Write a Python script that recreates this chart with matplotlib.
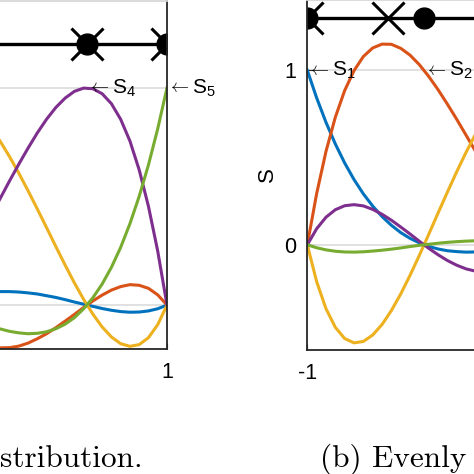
import matplotlib
matplotlib.use('Agg')
import matplotlib.pyplot as plt

# ---------------- data ----------------
# node positions on [-1, 1]
gll_nodes = [-1.0, -0.6547, 0.0, 0.6547, 1.0]      # X markers (both panels), circles in (a)
even_nodes = [-1.0, -0.5, 0.0, 0.5, 1.0]           # circles in (b)
node_level_a = 1.2
node_level_b = 1.3

# panel (a): visible part x in [0.24, 1]
xa = [0.24, 0.28, 0.32, 0.36, 0.40, 0.44, 0.48, 0.52, 0.56, 0.60,
      0.64, 0.68, 0.72, 0.76, 0.80, 0.84, 0.88, 0.92, 0.96, 1.00]
a_S1 = [0.059, 0.062, 0.062, 0.060, 0.056, 0.051, 0.043, 0.035, 0.025, 0.014,
        0.004, -0.006, -0.016, -0.024, -0.030, -0.033, -0.032, -0.027, -0.017, 0.000]
a_S2 = [-0.191, -0.197, -0.196, -0.189, -0.175, -0.155, -0.132, -0.104, -0.074, -0.043,
        -0.011, 0.019, 0.046, 0.069, 0.085, 0.094, 0.091, 0.077, 0.047, 0.000]
a_S3 = [0.816, 0.753, 0.683, 0.607, 0.526, 0.442, 0.356, 0.269, 0.184, 0.102,
        0.026, -0.042, -0.101, -0.147, -0.178, -0.190, -0.182, -0.150, -0.090, 0.000]
a_S4 = [0.413, 0.492, 0.572, 0.649, 0.723, 0.793, 0.856, 0.910, 0.953, 0.984,
        0.999, 0.996, 0.973, 0.927, 0.855, 0.755, 0.622, 0.454, 0.248, 0.000]
a_S5 = [-0.097, -0.110, -0.121, -0.128, -0.132, -0.130, -0.123, -0.109, -0.088, -0.058,
        -0.017, 0.034, 0.097, 0.174, 0.266, 0.375, 0.501, 0.646, 0.812, 1.000]

# panel (b): visible part x in [-1, -0.24]
xb = [-1.00, -0.96, -0.92, -0.88, -0.84, -0.80, -0.76, -0.72, -0.68, -0.64,
      -0.60, -0.56, -0.52, -0.48, -0.44, -0.40, -0.36, -0.32, -0.28, -0.24]
b_S1 = [1.000, 0.842, 0.702, 0.578, 0.469, 0.374, 0.292, 0.222, 0.162, 0.112,
        0.070, 0.037, 0.011, -0.009, -0.024, -0.034, -0.039, -0.042, -0.041, -0.038]
b_S2 = [0.000, 0.293, 0.535, 0.731, 0.884, 0.998, 1.079, 1.128, 1.150, 1.149,
        1.126, 1.087, 1.032, 0.965, 0.889, 0.806, 0.719, 0.628, 0.537, 0.446]
b_S3 = [0.000, -0.211, -0.366, -0.473, -0.537, -0.562, -0.554, -0.517, -0.457, -0.377,
        -0.282, -0.175, -0.060, 0.060, 0.182, 0.302, 0.419, 0.530, 0.633, 0.725]
b_S4 = [0.000, 0.092, 0.158, 0.201, 0.224, 0.230, 0.223, 0.203, 0.175, 0.141,
        0.102, 0.062, 0.020, -0.020, -0.057, -0.090, -0.117, -0.138, -0.151, -0.157]
b_S5 = [0.000, -0.017, -0.029, -0.037, -0.041, -0.042, -0.040, -0.036, -0.031, -0.025,
        -0.018, -0.010, -0.003, 0.003, 0.009, 0.014, 0.018, 0.021, 0.023, 0.023]

labels_a = [(0.6547, '4'), (1.0, '5')]
labels_b = [(-1.0, '1'), (-0.5, '2')]
y_ticks = [0, 1]
caption_a = 'stribution.'
caption_b = '(b) Evenly'

# ---------------- style ----------------
plt.rcParams['mathtext.fontset'] = 'custom'
plt.rcParams['mathtext.rm'] = 'Liberation Sans'
plt.rcParams['mathtext.it'] = 'Liberation Sans:italic'
plt.rcParams['font.family'] = ['Liberation Sans', 'DejaVu Sans']

W = 474
fig = plt.figure(figsize=(4.74, 4.74), dpi=100)


def px_axes(left, top, width, bottom):
    return fig.add_axes([left / W, (W - bottom) / W, width / W, (bottom - top) / W])


axA = px_axes(-296, 1, 463, 348.5)
axB = px_axes(307.3, 0.5, 467, 349.5)
colors = ['#0072BD', '#D95319', '#EDB120', '#7E2F8E', '#77AC30']

panels = [
    (axA, gll_nodes, node_level_a, xa, [a_S1, a_S2, a_S3, a_S4, a_S5], (-0.2, 1.4)),
    (axB, even_nodes, node_level_b, xb, [b_S1, b_S2, b_S3, b_S4, b_S5], (-0.6, 1.4)),
]
for ax, nodes, lvl, xs, curves, yl in panels:
    ax.plot(gll_nodes, [lvl] * len(gll_nodes), '-', color='k', lw=2.4)
    ax.plot(nodes, [lvl] * len(nodes), 'o', ms=15, color='k')
    ax.plot(gll_nodes, [lvl] * len(gll_nodes), 'x', ms=23, mew=2.2, color='k')
    for c, ys in zip(colors, curves):
        ax.plot(xs, ys, color=c, lw=2.2, solid_joinstyle='round')
    ax.set_xlim(-1, 1)
    ax.set_ylim(*yl)
    ax.set_yticks(y_ticks)
    ax.grid(axis='y', color='#dcdcdc', lw=1.2)
    ax.set_axisbelow(True)
    for s in ['left', 'bottom', 'right']:
        ax.spines[s].set_color('#262626')
        ax.spines[s].set_linewidth(1.3)
    ax.spines['top'].set_color('#d8d8d8')
    ax.spines['top'].set_linewidth(1.3)
    ax.tick_params(direction='in', length=4, labelsize=15.5, color='#262626')
    ax.tick_params(axis='x', pad=9.5)
    ax.tick_params(axis='y', pad=8)

axA.set_xticks([1])
axA.set_xticklabels(['1'])
axA.tick_params(labelleft=False)
axB.set_xticks([-1])
axB.set_xticklabels(['-1'])
axB.set_yticklabels([str(t) for t in y_ticks])
axB.set_ylabel('S', fontsize=16, va='center')
axB.yaxis.set_label_coords((267 - 307.3) / 467, 0.5)

for ax, labs in [(axA, labels_a), (axB, labels_b)]:
    for x, l in labs:
        ax.text(x, 1, r'$\leftarrow$', math_fontfamily='cm', fontsize=13,
                va='center', ha='left')
        ax.annotate(r'S$_{%s}$' % l, xy=(x, 1), xytext=(25, 0),
                    textcoords='offset pixels', fontsize=15, va='center', ha='left')

fig.text(0, 7 / W, caption_a, fontfamily='cmr10', fontsize=22.5, va='baseline')
fig.text(320 / W, 7 / W, caption_b, fontfamily='cmr10', fontsize=22.5, va='baseline')

fig.savefig('out.png', dpi=100)
